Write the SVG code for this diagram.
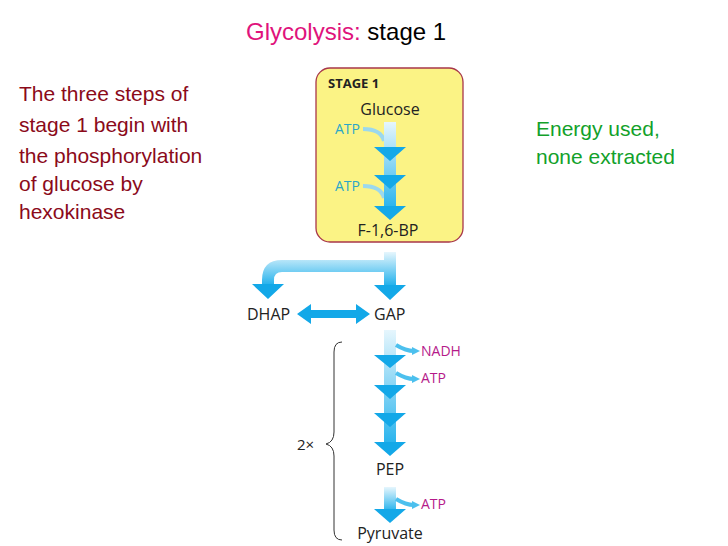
<svg xmlns="http://www.w3.org/2000/svg" width="728" height="546" viewBox="0 0 728 546">
<defs>
<linearGradient id="sh" x1="0" y1="0" x2="0" y2="1"><stop offset="0" stop-color="#e6f6fd"/><stop offset="1" stop-color="#1fb0ec"/></linearGradient>
</defs>
<style>
.t{font-family:"Liberation Sans",Arial,sans-serif}
.s{font-family:"Open Sans","DejaVu Sans",sans-serif}
.head{fill:#13a8e8}
.pk{fill:#b5198a;font-size:14px}
.cy{fill:#2aa6c8;font-size:14px}
</style>
<text class="t" x="246" y="40" font-size="24" fill="#e0137c">Glycolysis: <tspan fill="#000">stage 1</tspan></text>
<text class="t" font-size="21" fill="#8b0a1a"><tspan x="19" y="101">The three steps of</tspan><tspan x="19" y="132">stage 1 begin with</tspan><tspan x="19" y="163">the phosphorylation</tspan><tspan x="19" y="191">of glucose by</tspan><tspan x="19" y="219">hexokinase</tspan></text>
<text class="t" font-size="21" fill="#12a12a"><tspan x="536" y="136">Energy used,</tspan><tspan x="536" y="164">none extracted</tspan></text>
<g id="stage1">
<rect x="316" y="68" width="147" height="174" rx="14" fill="#fbf385" stroke="#a8374a" stroke-width="1.3"/>
<text class="s" x="328" y="88" font-size="13" font-weight="bold" fill="#222">STAGE 1</text>
<text class="s" x="390" y="115" font-size="16" text-anchor="middle" fill="#222">Glucose</text>
<text class="s cy" x="335" y="134">ATP</text>
<text class="s cy" x="335" y="191">ATP</text>
<text class="s" x="388" y="236" font-size="16" text-anchor="middle" fill="#222">F-1,6-BP</text>
</g>
<g id="connectors">
<path d="M363 129 q18 0 21 12 M363 186 q18 0 21 12" fill="none" stroke="#9bd8ee" stroke-width="4"/>
<rect x="384" y="122" width="12" height="90" fill="url(#sh)"/>
<path class="head" d="M374 147h32l-16 14z M374 175h32l-16 14z M374 206h32l-16 14z"/>
<path d="M396 252 V285 H384 V272 H282 q-8 0 -8 8 V286 H262 V280 q0 -20 20 -20 H384 V252z" fill="url(#sh)"/>
<path class="head" d="M374 285h32l-16 15z M252 284h32l-16 15z"/>
<path class="head" d="M297 314 l14 -10 v6 h45 v-6 l14 10 l-14 10 v-6 h-45 v6z"/>
<rect x="384" y="330" width="12" height="120" fill="url(#sh)"/>
<path class="head" d="M374 355h32l-16 13z M374 385h32l-16 14z M374 413h32l-16 14z M374 442h32l-16 14z"/>
<rect x="384" y="487" width="12" height="25" fill="url(#sh)"/>
<path class="head" d="M374 509h32l-16 14z"/>
<path d="M396 345 q10 6 18 6 M396 373 q10 6 18 6 M396 499 q10 6 18 6" fill="none" stroke="#4cc0ee" stroke-width="4"/>
<path d="M412 347 l8 4 l-8 4z M412 375 l8 4 l-8 4z M412 501 l8 4 l-8 4z" fill="#4cc0ee"/>
<path d="M342 342 q-8 0 -8 10 V432 q0 10 -8 12 q8 2 8 12 V530 q0 10 8 10" fill="none" stroke="#333" stroke-width="1"/>
</g>
<g id="lower">
<text class="s" x="247" y="320" font-size="16" fill="#222">DHAP</text>
<text class="s" x="374" y="320" font-size="16" fill="#222">GAP</text>
<text class="s pk" x="421" y="356">NADH</text>
<text class="s pk" x="421" y="383">ATP</text>
<text class="s pk" x="421" y="509">ATP</text>
<text class="s" x="297" y="450" font-size="15" fill="#222">2×</text>
<text class="s" x="390" y="475" font-size="16" text-anchor="middle" fill="#222">PEP</text>
<text class="s" x="390" y="539" font-size="16" text-anchor="middle" fill="#222">Pyruvate</text>
</g>
</svg>
